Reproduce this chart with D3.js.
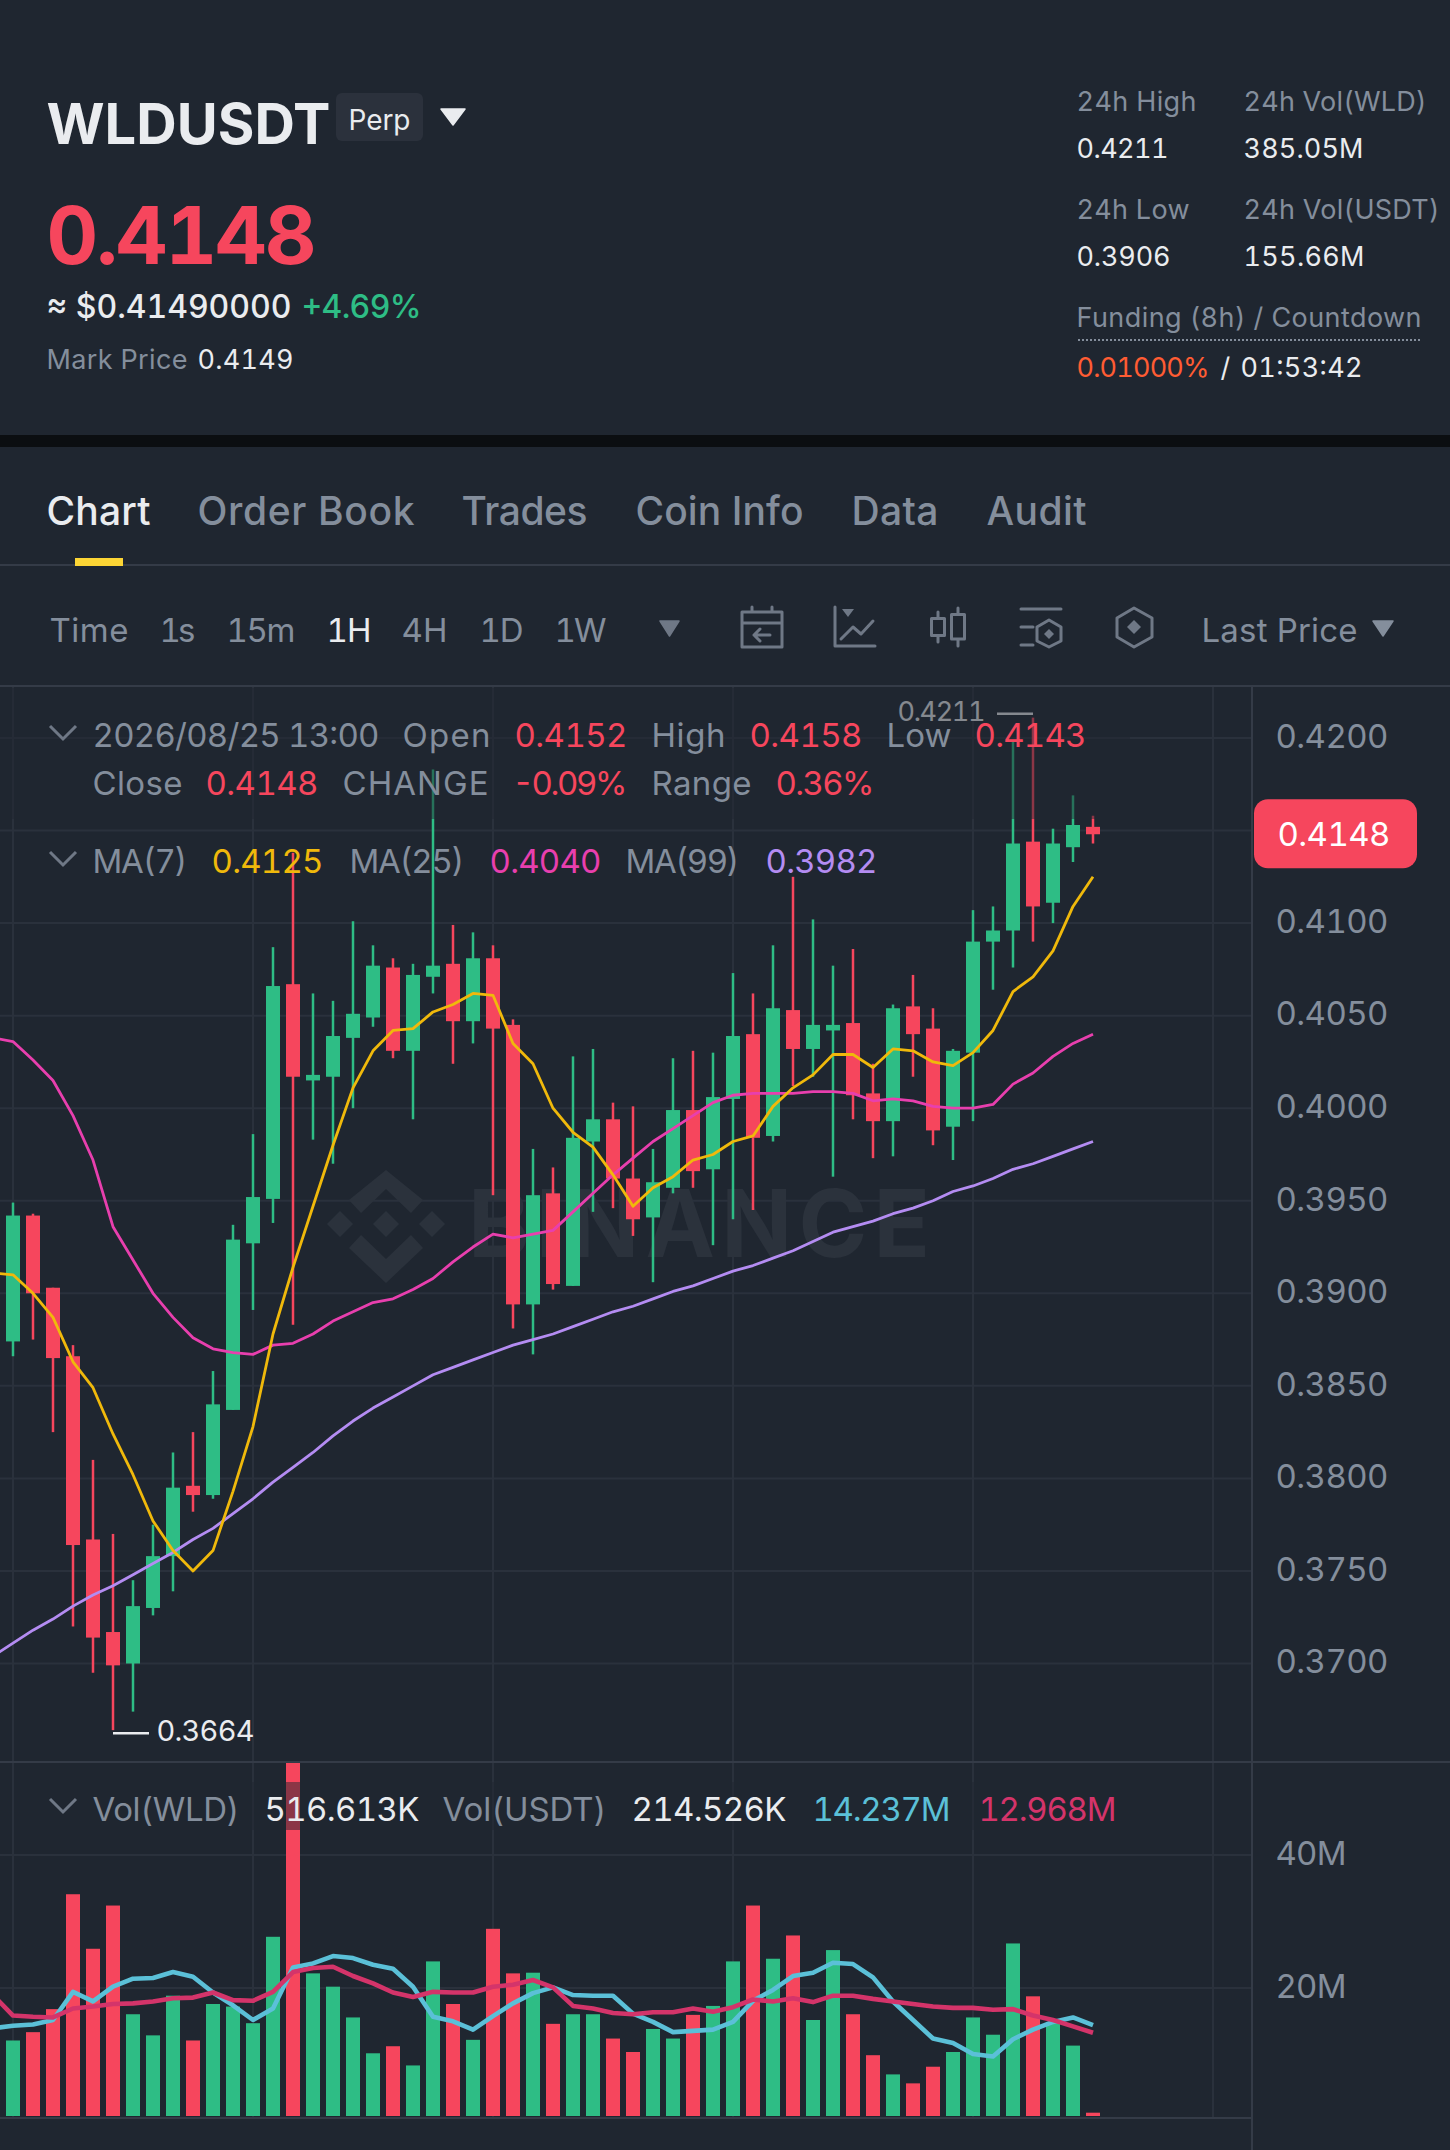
<!DOCTYPE html>
<html lang="en">
	<head>
		<meta charset="utf-8">
		<title>WLDUSDT Perp</title>
		<script type="text/javascript" src="https://cdn.jsdelivr.net/npm/d3@7"></script>
		<style>
			html, body { margin: 0; padding: 0; background: #1f2630; }
			svg { display: block; }
			text { font-family: Inter, "Noto Sans", sans-serif; font-variant-numeric: tabular-nums; }
		</style>
	</head>
	<body>
		<div class="visualization"></div>

		<script type="text/javascript">
			// Candles, oldest first
			var openPrice = [.3874,.3942,.3903,.3866,.3767,.3717,.3700,.3730,.3758,.3796,.3791,.3837,.3927,.3951,.4067,.4015,.4017,.4038,.4049,.4076,.4031,.4071,.4078,.4047,.4081,.4045,.3894,.3954,.3904,.3982,.3994,.3962,.3941,.3957,.3999,.3967,.4005,.4040,.3985,.4053,.4032,.4042,.4046,.4008,.3993,.4055,.4043,.3990,.4030,.4090,.4096,.4144,.4111,.4141,.4152];
			var highPrice = [.3949,.3943,.3903,.3872,.3810,.3770,.3745,.3775,.3814,.3825,.3858,.3937,.3986,.4087,.4138,.4062,.4058,.4101,.4088,.4081,.4078,.4183,.4099,.4095,.4088,.4048,.3978,.3968,.4028,.4032,.4003,.4001,.3978,.4027,.4031,.4030,.4073,.4062,.4088,.4125,.4102,.4077,.4086,.4024,.4056,.4072,.4054,.4032,.4107,.4109,.4198,.4211,.4151,.4169,.4158];
			var lowPrice = [.3866,.3875,.3825,.3720,.3695,.3664,.3674,.3726,.3739,.3782,.3789,.3837,.3891,.3938,.3883,.3983,.3970,.4000,.4044,.4027,.3994,.4062,.4024,.4035,.3953,.3881,.3867,.3902,.3904,.3944,.3946,.3931,.3906,.3954,.3957,.3926,.3940,.3945,.3982,.4012,.4017,.3963,.3994,.3973,.3974,.4017,.3980,.3972,.3993,.4064,.4076,.4090,.4100,.4133,.4143];
			var closePrice = [.3942,.3900,.3865,.3764,.3714,.3699,.3731,.3758,.3795,.3791,.3840,.3929,.3952,.4066,.4017,.4018,.4039,.4051,.4077,.4031,.4072,.4077,.4047,.4081,.4043,.3894,.3953,.3905,.3984,.3994,.3962,.3940,.3960,.3999,.3966,.4006,.4039,.3984,.4054,.4032,.4045,.4045,.4007,.3993,.4054,.4040,.3988,.4031,.4090,.4096,.4143,.4109,.4143,.4153,.4148];

			// Moving averages start one candle before the first visible one
			var ma7 = [.3911,.3910,.3900,.3887,.3863,.3849,.3824,.3802,.3777,.3761,.3750,.3761,.3793,.3828,.3878,.3914,.3947,.3980,.4011,.4031,.4042,.4043,.4052,.4056,.4062,.4061,.4035,.4024,.4000,.3987,.3979,.3964,.3947,.3957,.3963,.3972,.3975,.3982,.3985,.4001,.4011,.4018,.4029,.4029,.4022,.4032,.4031,.4025,.4023,.4030,.4042,.4063,.4071,.4085,.4109,.4125];
			var ma25 = [.4038,.4036,.4026,.4015,.3996,.3972,.3936,.3918,.3900,.3887,.3876,.3870,.3868,.3867,.3872,.3873,.3878,.3885,.3890,.3895,.3897,.3902,.3908,.3917,.3925,.3932,.3930,.3932,.3934,.3944,.3954,.3964,.3973,.3982,.3989,.3996,.4003,.4007,.4008,.4008,.4008,.4009,.4009,.4008,.4004,.4005,.4004,.4001,.4000,.4000,.4002,.4013,.4019,.4028,.4035,.4040];
			var ma99 = [.3704,.3711,.3718,.3724,.3731,.3737,.3742,.3748,.3754,.3760,.3767,.3773,.3781,.3789,.3798,.3806,.3814,.3823,.3831,.3838,.3844,.3850,.3856,.3860,.3864,.3868,.3872,.3875,.3878,.3882,.3886,.3890,.3893,.3897,.3901,.3904,.3908,.3912,.3915,.3919,.3923,.3928,.3933,.3936,.3939,.3943,.3946,.3950,.3955,.3958,.3962,.3967,.3970,.3974,.3978,.3982];

			// Volume in millions
			var volume = [11.8,13.1,16.7,34.1,25.9,32.4,15.9,12.6,18.8,11.8,17.5,17.1,14.5,27.7,54,22.2,20.2,15.4,9.8,10.9,7.9,24.0,17.5,11.9,28.9,22.2,22.3,14.4,15.9,15.9,12.1,10.0,13.6,12.1,15.8,17.2,24.0,32.4,24.4,27.9,15.0,25.7,15.9,9.5,6.5,5.1,7.7,10.0,15.4,12.7,26.7,18.7,14.7,11.0,0.517];
			var volMa5 = [13.7,14.1,14.3,15.0,19.4,17.9,20.2,21.4,21.5,22.4,21.7,19.3,17.3,15.0,16.8,23.1,23.7,24.8,24.5,23.5,22.9,20.2,15.5,14.8,13.5,15.6,17.6,19.2,20.1,18.9,18.8,18.8,16.0,14.7,13.1,13.3,13.5,14.7,18.0,19.7,21.8,22.3,23.8,23.6,21.6,17.9,15.0,12.1,11.4,9.7,9.3,12.0,13.5,14.7,15.4,14.2];
			var volMa10 = [18.9,15.7,15.5,15.4,16.8,17.1,17.5,17.6,17.9,18.4,18.5,19.3,18.1,18.0,19.4,22.4,23.0,23.2,21.8,20.7,19.3,18.6,19.4,19.3,19.3,20.2,20.5,21.2,20.1,17.2,16.8,16.1,15.9,16.2,16.2,16.8,16.3,17.0,18.2,17.9,18.4,17.8,18.8,18.8,18.3,17.9,17.5,17.1,16.9,16.9,16.6,16.7,15.7,15.0,14.0,13.0];

			var priceTicks = [.42,.415,.41,.405,.40,.395,.39,.385,.38,.375,.37];
			var volTicks = [20,40];
			var gridCandles = [0,12,24,36,48,60];

			var Vis = {};
			Vis.width = 1450;
			Vis.height = 2150;
			Vis.bg = "#1f2630";
			Vis.grid = "#2a313c";
			Vis.line = "#343b47";
			Vis.grey = "#848e9c";
			Vis.white = "#eaecef";
			Vis.red = "#f6465d";
			Vis.green = "#2ebd85";
			Vis.icon = "#6f7886";
			Vis.axisX = 1252;

			Vis.x = d3.scaleLinear().domain([0,54]).range([13,1093]);
			Vis.priceY = d3.scaleLinear().domain([.37,.42]).range([1663.5,738]);
			// the volume axis sits a little above its zero line
			Vis.volY = d3.scaleLinear().domain([0,20,40]).range([2116,1988,1855]);

			Vis.svg = d3.select(".visualization")
				.append("svg")
				.attr("width", Vis.width)
				.attr("height", Vis.height);

			Vis.svg.append("rect")
				.attr("width", Vis.width)
				.attr("height", Vis.height)
				.attr("fill", Vis.bg);

			var defs = Vis.svg.append("defs");
			defs.append("clipPath").attr("id","pricePane").append("rect")
				.attr("x",0).attr("y",688).attr("width",Vis.axisX).attr("height",1074);
			defs.append("clipPath").attr("id","volPane").append("rect")
				.attr("x",0).attr("y",1762).attr("width",Vis.axisX).attr("height",356);

			// width is the length the text has in the original, its font is wider than ours
			var label = function(x, y, str, size, fill, width, weight){
				return Vis.svg.append("text")
					.attr("x", x - 1.5)
					.attr("y", y)
					.attr("font-size", size)
					.attr("font-weight", weight || 400)
					.attr("fill", fill)
					.attr("textLength", width ? width + 2 : null)
					.text(str);
			};

			var triangle = function(x0, x1, y0, y1, fill){
				Vis.svg.append("path")
					.attr("d", "M" + x0 + "," + y0 + "L" + x1 + "," + y0 + "L" + (x0 + x1) / 2 + "," + y1 + "Z")
					.attr("fill", fill)
					.attr("stroke", fill)
					.attr("stroke-width", 1.5)
					.attr("stroke-linejoin", "round");
			};

			var chevron = function(y){
				Vis.svg.append("path")
					.attr("d", "M50," + y + "L63," + (y + 13) + "L76," + y)
					.attr("fill", "none")
					.attr("stroke", "#6f7886")
					.attr("stroke-width", 3);
			};

			// Header
			label(48, 144, "WLDUSDT", 56, Vis.white, 282, 700);
			Vis.svg.append("rect").attr("x",336).attr("y",93).attr("width",87).attr("height",48).attr("rx",6).attr("fill","#2b313c");
			label(350, 130, "Perp", 28, Vis.white, 60);
			triangle(441, 465, 109, 125, Vis.white);

			label(48, 264, "0.4148", 80, Vis.red, 268, 700);
			label(48, 318, "\u2248 $0.41490000", 32, Vis.white, 243, 500);
			label(303, 318, "+4.69%", 32, Vis.green, 118, 500);
			label(48, 369, "Mark Price", 27, Vis.grey, 139);
			label(199, 369, "0.4149", 27, Vis.white, 94);

			label(1078, 111, "24h High", 27, Vis.grey, 118);
			label(1245, 111, "24h Vol(WLD)", 27, Vis.grey, 181);
			label(1078, 158, "0.4211", 27, Vis.white, 90);
			label(1245, 158, "385.05M", 27, Vis.white, 118);
			label(1078, 219, "24h Low", 27, Vis.grey, 111);
			label(1245, 219, "24h Vol(USDT)", 27, Vis.grey, 194);
			label(1078, 266, "0.3906", 27, Vis.white, 92);
			label(1245, 266, "155.66M", 27, Vis.white, 119);
			label(1078, 327, "Funding (8h) / Countdown", 27, Vis.grey, 343);
			Vis.svg.append("line").attr("x1",1078).attr("x2",1422).attr("y1",340).attr("y2",340)
				.attr("stroke",Vis.grey).attr("stroke-width",2).attr("stroke-dasharray","2 2");
			label(1078, 377, "0.01000%", 27, "#ff5c33", 131);
			label(1222, 377, "/", 27, Vis.white);
			label(1242, 377, "01:53:42", 27, Vis.white, 120);

			Vis.svg.append("rect").attr("x",0).attr("y",435).attr("width",Vis.width).attr("height",12).attr("fill","#0b0e11");

			// Tabs
			label(48, 525, "Chart", 39, Vis.white, 102, 500);
			label(199, 525, "Order Book", 39, Vis.grey, 215, 500);
			label(463, 525, "Trades", 39, Vis.grey, 124, 500);
			label(637, 525, "Coin Info", 39, Vis.grey, 166, 500);
			label(853, 525, "Data", 39, Vis.grey, 85, 500);
			label(988, 525, "Audit", 39, Vis.grey, 98, 500);
			Vis.svg.append("rect").attr("x",0).attr("y",564).attr("width",Vis.width).attr("height",2).attr("fill",Vis.line);
			Vis.svg.append("rect").attr("x",75).attr("y",558).attr("width",48).attr("height",8).attr("fill","#fcd535");

			// Interval bar
			label(51, 642, "Time", 33, Vis.grey, 77);
			label(161, 642, "1s", 33, Vis.grey, 34);
			label(228, 642, "15m", 33, Vis.grey, 67);
			label(328, 642, "1H", 33, Vis.white, 43);
			label(403, 642, "4H", 33, Vis.grey, 44);
			label(481, 642, "1D", 33, Vis.grey, 42);
			label(556, 642, "1W", 33, Vis.grey, 50);
			triangle(660, 679, 621, 636, Vis.icon);
			label(1203, 642, "Last Price", 33, Vis.grey, 154);
			triangle(1373, 1393, 621, 636, Vis.grey);

			var iconLines = [
				"M742,612H782V647H742ZM742,623H782M752,607V612M772,607V612M770,635H754M760,629L754,635L760,641",
				"M835,607V646H875M841,639L853,627L861,634L873,621",
				"M931.5,618.5H944.5V635.5H931.5ZM951.5,614.5H964.5V639H951.5ZM938,612V618.5M938,635.5V642M958,608V614.5M958,639V646",
				"M1021,609H1061M1021,627H1033M1021,645H1033M1049,620L1061,627V641L1049,647L1037,641V627Z",
				"M1134,608L1152,618V637L1134,647L1117,637V618Z"
			];
			var iconFills = [
				"M842,609H854L848,617Z",
				"M1049,629L1054,634L1049,639L1044,634Z",
				"M1134,620L1141,627L1134,634L1127,627Z"
			];
			Vis.svg.append("g").selectAll("path")
				.data(iconLines)
				.enter().append("path")
				.attr("d", d => d)
				.attr("fill", "none")
				.attr("stroke", Vis.icon)
				.attr("stroke-width", 3)
				.attr("stroke-linejoin", "round")
				.attr("stroke-linecap", "round");
			Vis.svg.append("g").selectAll("path")
				.data(iconFills)
				.enter().append("path")
				.attr("d", d => d)
				.attr("fill", Vis.icon);

			Vis.svg.append("rect").attr("x",0).attr("y",685).attr("width",Vis.width).attr("height",2).attr("fill",Vis.line);

			// Grid
			Vis.svg.append("g").selectAll("line")
				.data(priceTicks)
				.enter().append("line")
				.attr("x1",0).attr("x2",Vis.axisX)
				.attr("y1",d => Vis.priceY(d)).attr("y2",d => Vis.priceY(d))
				.attr("stroke",Vis.grid).attr("stroke-width",2);
			Vis.svg.append("g").selectAll("line")
				.data(volTicks)
				.enter().append("line")
				.attr("x1",0).attr("x2",Vis.axisX)
				.attr("y1",d => Vis.volY(d)).attr("y2",d => Vis.volY(d))
				.attr("stroke",Vis.grid).attr("stroke-width",2);
			Vis.svg.append("g").selectAll("line")
				.data(gridCandles)
				.enter().append("line")
				.attr("x1",d => Vis.x(d)).attr("x2",d => Vis.x(d))
				.attr("y1",687).attr("y2",2117)
				.attr("stroke",Vis.grid).attr("stroke-width",2);

			// Watermark
			var mark = Vis.svg.append("g").attr("transform","translate(386,1224)").attr("fill","#2b323c");
			mark.append("path").attr("d","M0,-13L13,0L0,13L-13,0Z");
			mark.append("path").attr("d","M-46,-13L-33,0L-46,13L-59,0Z");
			mark.append("path").attr("d","M46,-13L59,0L46,13L33,0Z");
			mark.append("path").attr("d","M0,-54L37,-24L25,-11L0,-35L-25,-11L-37,-24Z");
			mark.append("path").attr("d","M0,59L37,24L25,11L0,35L-25,11L-37,24Z");
			Vis.svg.append("text")
				.attr("x",468).attr("y",1257)
				.attr("font-size",93).attr("font-weight",700)
				.attr("fill","#2b323c")
				.attr("textLength",462)
				.text("BINANCE");

			// Candles
			Vis.candles = openPrice.map(function(o,i){
				return {i: i, open: o, high: highPrice[i], low: lowPrice[i], close: closePrice[i]};
			});
			Vis.candleColor = d => d.close >= d.open ? Vis.green : Vis.red;

			var priceG = Vis.svg.append("g").attr("clip-path","url(#pricePane)");

			priceG.selectAll(".wick")
				.data(Vis.candles)
				.enter().append("rect")
				.attr("class","wick")
				.attr("x",d => Vis.x(d.i) - 1.25)
				.attr("width",2.5)
				.attr("y",d => Vis.priceY(d.high))
				.attr("height",d => Vis.priceY(d.low) - Vis.priceY(d.high))
				.attr("fill",Vis.candleColor);

			priceG.selectAll(".body")
				.data(Vis.candles)
				.enter().append("rect")
				.attr("class","body")
				.attr("x",d => Vis.x(d.i) - 7)
				.attr("width",14)
				.attr("y",d => Vis.priceY(Math.max(d.open,d.close)))
				.attr("height",d => Math.max(2, Vis.priceY(Math.min(d.open,d.close)) - Vis.priceY(Math.max(d.open,d.close))))
				.attr("fill",Vis.candleColor);

			var priceLine = d3.line().x((d,i) => Vis.x(i - 1)).y(d => Vis.priceY(d));
			[[ma99,"#b48cf2"],[ma25,"#e83fae"],[ma7,"#f0b90b"]].forEach(function(d){
				priceG.append("path")
					.attr("d",priceLine(d[0]))
					.attr("fill","none")
					.attr("stroke",d[1])
					.attr("stroke-width",2.8)
					.attr("stroke-linejoin","round");
			});

			// High and low markers
			Vis.svg.append("line")
				.attr("x1",997).attr("x2",1033)
				.attr("y1",Vis.priceY(.4211) - 4).attr("y2",Vis.priceY(.4211) - 4)
				.attr("stroke",Vis.white).attr("stroke-width",2.5);
			label(899, 721, "0.4211", 27, Vis.white, 86);

			// text panel dims whatever runs behind the first two legend rows
			Vis.svg.append("rect").attr("x",0).attr("y",688).attr("width",1130).attr("height",131)
				.attr("fill",Vis.bg).attr("opacity",.5);

			Vis.svg.append("line")
				.attr("x1",113).attr("x2",149)
				.attr("y1",Vis.priceY(.3664) + 3).attr("y2",Vis.priceY(.3664) + 3)
				.attr("stroke",Vis.white).attr("stroke-width",2.5);
			label(158, 1741, "0.3664", 29, Vis.white, 96);

			// Volume
			var volG = Vis.svg.append("g").attr("clip-path","url(#volPane)");
			volG.selectAll("rect")
				.data(volume)
				.enter().append("rect")
				.attr("x",(d,i) => Vis.x(i) - 7)
				.attr("width",14)
				.attr("y",d => Math.min(Vis.volY(d), Vis.volY(0) - 3))
				.attr("height",d => Math.max(3, Vis.volY(0) - Vis.volY(d)))
				.attr("fill",(d,i) => Vis.candleColor(Vis.candles[i]));

			var volLine = d3.line().x((d,i) => Vis.x(i - 1)).y(d => Vis.volY(d));
			[[volMa5,"#5bc0d8"],[volMa10,"#d4346a"]].forEach(function(d){
				volG.append("path")
					.attr("d",volLine(d[0]))
					.attr("fill","none")
					.attr("stroke",d[1])
					.attr("stroke-width",4.6)
					.attr("stroke-linejoin","round");
			});

			Vis.svg.append("rect").attr("x",48).attr("y",1782).attr("width",1082).attr("height",48)
				.attr("fill",Vis.bg).attr("opacity",.5);

			// Pane borders
			Vis.svg.append("rect").attr("x",0).attr("y",1761).attr("width",Vis.width).attr("height",2).attr("fill",Vis.line);
			Vis.svg.append("rect").attr("x",0).attr("y",2117).attr("width",Vis.axisX).attr("height",2).attr("fill",Vis.line);
			Vis.svg.append("rect").attr("x",Vis.axisX - 1).attr("y",687).attr("width",2).attr("height",Vis.height - 687).attr("fill",Vis.line);

			// Axes
			var priceAxis = Vis.svg.append("g")
				.attr("transform","translate(" + Vis.axisX + ",0)")
				.call(d3.axisRight(Vis.priceY).tickValues(priceTicks).tickFormat(d3.format(".4f")).tickSize(0).tickPadding(23.5));
			var volAxis = Vis.svg.append("g")
				.attr("transform","translate(" + Vis.axisX + ",0)")
				.call(d3.axisRight(Vis.volY).tickValues(volTicks).tickFormat(d => d + "M").tickSize(0).tickPadding(23.5));
			[priceAxis,volAxis].forEach(function(a){
				a.select(".domain").remove();
				a.selectAll("text")
					.attr("font-size",33)
					.attr("fill",Vis.grey)
					.attr("dy","0.28em")
					.style("font-family","Inter, sans-serif");
			});
			priceAxis.selectAll("text").attr("textLength",113);
			volAxis.selectAll("text").attr("textLength",71);

			// Last price tag
			Vis.svg.append("rect")
				.attr("x",1254).attr("width",163).attr("height",69).attr("rx",14)
				.attr("y",Vis.priceY(.4148) - 35)
				.attr("fill",Vis.red);
			label(1279, Vis.priceY(.4148) + 12, "0.4148", 33, "#ffffff", 111);

			// Legends
			chevron(726);
			label(94, 747, "2026/08/25 13:00", 33, Vis.grey, 285);
			label(404, 747, "Open", 33, Vis.grey, 86);
			label(516, 747, "0.4152", 33, Vis.red, 111);
			label(653, 747, "High", 33, Vis.grey, 72);
			label(751, 747, "0.4158", 33, Vis.red, 111);
			label(888, 747, "Low", 33, Vis.grey, 63);
			label(976, 747, "0.4143", 33, Vis.red, 110);

			label(94, 795, "Close", 33, Vis.grey, 88);
			label(207, 795, "0.4148", 33, Vis.red, 111);
			label(344, 795, "CHANGE", 33, Vis.grey, 144);
			label(514, 795, "-0.09%", 33, Vis.red, 113);
			label(653, 795, "Range", 33, Vis.grey, 98);
			label(777, 795, "0.36%", 33, Vis.red, 97);

			chevron(852);
			label(94, 873, "MA(7)", 33, Vis.grey, 93);
			label(213, 873, "0.4125", 33, "#f0b90b", 110);
			label(351, 873, "MA(25)", 33, Vis.grey, 113);
			label(491, 873, "0.4040", 33, "#e83fae", 110);
			label(627, 873, "MA(99)", 33, Vis.grey, 112);
			label(767, 873, "0.3982", 33, "#b48cf2", 110);

			chevron(1799);
			label(94, 1821, "Vol(WLD)", 33, Vis.grey, 145);
			label(266, 1821, "516.613K", 33, Vis.white, 153);
			label(444, 1821, "Vol(USDT)", 33, Vis.grey, 162);
			label(633, 1821, "214.526K", 33, Vis.white, 153);
			label(814, 1821, "14.237M", 33, "#5bc0d8", 136);
			label(980, 1821, "12.968M", 33, "#d4346a", 136);
		</script>
	</body>
</html>
